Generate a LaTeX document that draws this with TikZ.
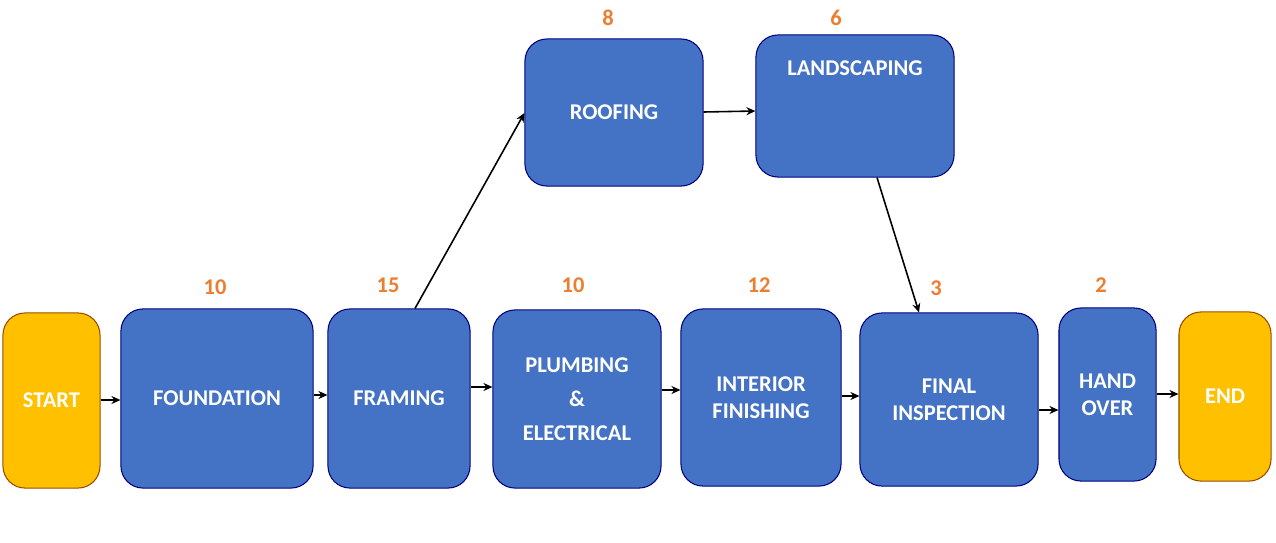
\documentclass[tikz,border=0pt]{standalone}
\usepackage{fontspec}
\setmainfont{Carlito}
\usetikzlibrary{arrows.meta}
\begin{document}
\begin{tikzpicture}[x=0.01cm,y=-0.01cm,
    task/.style={draw=blue!50!black,line width=0.3pt,fill=taskblue,rounded corners=0.22cm,
        text=white,font=\fontsize{6.4}{7.6}\selectfont\bfseries,align=center,inner sep=0pt},
    ends/.style={task,fill=endyellow,draw=orange!60!black},
    dur/.style={text=durorange,font=\fontsize{6.4}{7.6}\selectfont\bfseries},
    link/.style={-{Stealth[length=0.9mm,width=0.8mm]},line width=0.45pt}
]
\definecolor{taskblue}{HTML}{4472C4}
\definecolor{endyellow}{HTML}{FFC000}
\definecolor{durorange}{HTML}{ED7D31}
\useasboundingbox (0,0) rectangle (1276,542);

\node[ends,minimum width=0.97cm,minimum height=1.75cm] (Start) at (51.5,400.5) {START};
\node[task,minimum width=1.92cm,minimum height=1.79cm] (Found) at (217,398.5) {FOUNDATION};
\node[task,minimum width=1.42cm,minimum height=1.79cm] (Frame) at (399,398.5) {FRAMING};
\node[task,minimum width=1.68cm,minimum height=1.78cm] (Plumb) at (577,399) {PLUMBING\\[2pt]\&\\[2pt]ELECTRICAL};
\node[task,minimum width=1.60cm,minimum height=1.77cm] (Inter) at (761,397.5) {INTERIOR\\FINISHING};
\node[task,minimum width=1.78cm,minimum height=1.73cm] (Final) at (949,399.5) {FINAL\\INSPECTION};
\node[task,minimum width=0.97cm,minimum height=1.73cm] (Hand) at (1107.5,394.5) {HAND\\OVER};
\node[ends,minimum width=0.92cm,minimum height=1.69cm] (End) at (1225,396.5) {END};
\node[task,minimum width=1.78cm,minimum height=1.47cm] (Roof) at (614,112.5) {ROOFING};
\node[task,minimum width=1.98cm,minimum height=1.42cm] (Land) at (855,106) {LANDSCAPING\\[14pt]\mbox{}};

\node[dur] (dFound) at (215,287) {10};
\node[dur] (dFrame) at (388,285) {15};
\node[dur] (dPlumb) at (573,285) {10};
\node[dur] (dInter) at (759,285) {12};
\node[dur] (dFinal) at (936,288) {3};
\node[dur] (dHand) at (1101,285) {2};
\node[dur] (dRoof) at (608,18) {8};
\node[dur] (dLand) at (836,18) {6};

\draw[link] (Start.east |- 0,400) -- (Found.west |- 0,400);
\draw[link] (Found.east |- 0,395) -- (Frame.west |- 0,395);
\draw[link] (Frame.east |- 0,387) -- (Plumb.west |- 0,387);
\draw[link] (Plumb.east |- 0,390) -- (Inter.west |- 0,390);
\draw[link] (Inter.east |- 0,396) -- (Final.west |- 0,396);
\draw[link] (Final.east |- 0,410) -- (Hand.west |- 0,410);
\draw[link] (Hand.east |- 0,394) -- (End.west |- 0,394);
\draw[link] (Frame.north -| 415,0) -- (Roof.west |- 0,113);
\draw[link] (Roof.east |- 0,112) -- (Land.west |- 0,111);
\draw[link] (Land.south -| 877,0) -- (Final.north -| 919,0);
\end{tikzpicture}
\end{document}
